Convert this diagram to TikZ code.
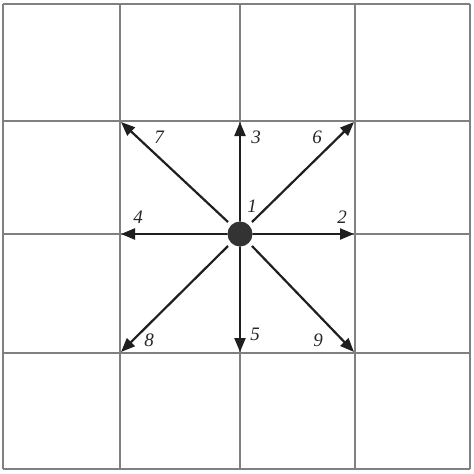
\documentclass[tikz,border=0pt]{standalone}
\usepackage{fontspec}
\setmainfont{Liberation Serif}
\usetikzlibrary{arrows.meta}
\begin{document}
\begin{tikzpicture}[x=1pt,y=-1pt,
  gridline/.style={draw=black!50,line width=1.6pt},
  ray/.style={draw=black!88,line width=2.2pt,-{Triangle[length=14pt,width=11pt]}},
  lbl/.style={font=\fontsize{19}{19}\selectfont\itshape,text=black!85,inner sep=0pt}]
\useasboundingbox (0,0) rectangle (474,474);
\fill[white] (0,0) rectangle (474,474);
% grid
\foreach \x in {3,120,240,355,470} \draw[gridline] (\x,4) -- (\x,469);
\foreach \y in {4,121,234,353,469} \draw[gridline] (3,\y) -- (470,\y);
% center
\node[circle,fill=black!80,minimum size=25pt,inner sep=0pt] (c) at (240,234) {};
% end points
\coordinate (e2) at (354,234);
\coordinate (e3) at (240,122);
\coordinate (e4) at (121,234);
\coordinate (e5) at (240,352);
\coordinate (e6) at (354,122);
\coordinate (e7) at (121,122);
\coordinate (e8) at (121,352);
\coordinate (e9) at (354,352);
\coordinate (s6) at (252,222);
\coordinate (s7) at (228,222);
\coordinate (s8) at (228,246);
\coordinate (s9) at (252,246);
\draw[ray] (c.east) -- (e2);
\draw[ray] (c.north) -- (e3);
\draw[ray] (c.west) -- (e4);
\draw[ray] (c.south) -- (e5);
\draw[ray] (s6) -- (e6);
\draw[ray] (s7) -- (e7);
\draw[ray] (s8) -- (e8);
\draw[ray] (s9) -- (e9);
% labels
\node[lbl] (l1) at (252,206) {1};
\node[lbl] (l2) at (342,217) {2};
\node[lbl] (l3) at (256,137) {3};
\node[lbl] (l4) at (138,217) {4};
\node[lbl] (l5) at (255,334) {5};
\node[lbl] (l6) at (317,137) {6};
\node[lbl] (l7) at (159,137) {7};
\node[lbl] (l8) at (149,340) {8};
\node[lbl] (l9) at (318,340) {9};
\end{tikzpicture}
\end{document}
